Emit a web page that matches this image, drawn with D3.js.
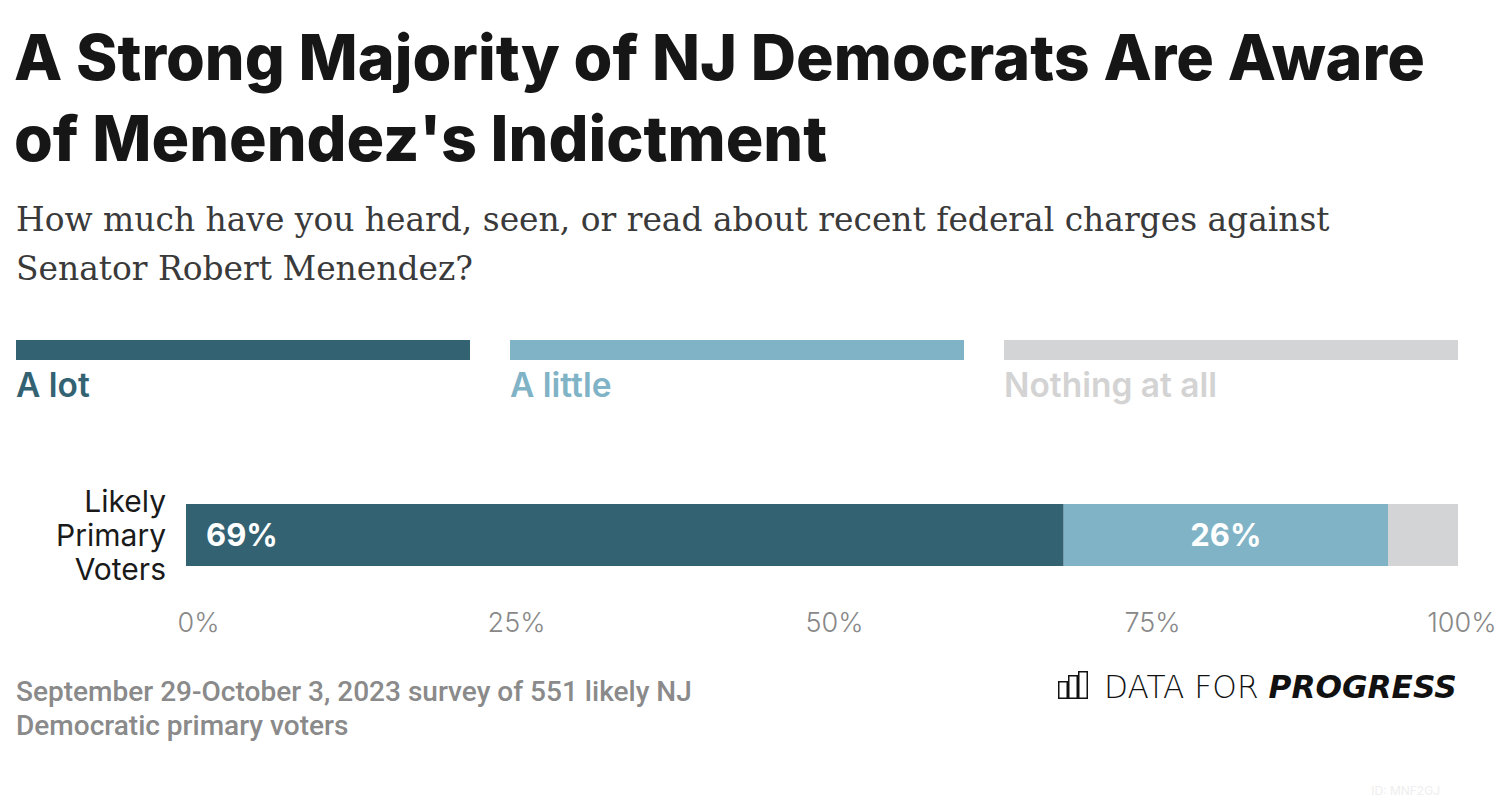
<!DOCTYPE html>
<html>
<head>
<meta charset="utf-8">
<script src="https://cdn.jsdelivr.net/npm/d3@7"></script>
<style>
  body { margin: 0; background: #fff; }
  svg { display: block; }
</style>
</head>
<body>
<div id="chart"></div>
<script>
// data
const categories = ["Likely Primary Voters"];
const categoryLines = [["Likely", "Primary", "Voters"]];
const seriesNames = ["A lot", "A little", "Nothing at all"];
const seriesColors = ["#336273", "#80b3c6", "#d3d4d5"];
const aLot = [69.0];
const aLittle = [25.5];
const nothing = [5.5];
const valueLabels = [["69%", "26%", ""]];
const tickValues = [0, 25, 50, 75, 100];

const W = 1498, H = 800;
const svg = d3.select("#chart").append("svg")
  .attr("width", W).attr("height", H);

const sans = "Inter, 'Open Sans', sans-serif";

// scale font-size so a text element spans the given width
function fit(sel, target) {
  const w = sel.node().getBBox().width;
  const fs = parseFloat(sel.style("font-size"));
  sel.style("font-size", (fs * target / w).toFixed(2) + "px");
}

// title
const t1 = svg.append("text").attr("x", 14).attr("y", 80)
  .style("font-family", sans).style("font-weight", 800)
  .style("font-size", "60px").attr("fill", "#161616")
  .text("A Strong Majority of NJ Democrats Are Aware");
fit(t1, 1411);
const fsTitle = t1.style("font-size");
svg.append("text").attr("x", 14).attr("y", 161)
  .style("font-family", sans).style("font-weight", 800)
  .style("font-size", fsTitle).attr("fill", "#161616")
  .text("of Menendez's Indictment");

const s1 = svg.append("text").attr("x", 16).attr("y", 231)
  .style("font-family", "'DejaVu Serif', serif").style("font-size", "30px").attr("fill", "#3a3a3a")
  .text("How much have you heard, seen, or read about recent federal charges against");
fit(s1, 1314);
svg.append("text").attr("x", 16).attr("y", 280)
  .style("font-family", "'DejaVu Serif', serif").style("font-size", s1.style("font-size")).attr("fill", "#3a3a3a")
  .text("Senator Robert Menendez?");

// legend
const swW = 454, gap = 40;
const legendLabels = seriesNames.map((s, i) => {
  const x0 = 16 + i * (swW + gap);
  svg.append("rect").attr("x", x0).attr("y", 340).attr("width", swW).attr("height", 20)
    .attr("fill", seriesColors[i]);
  return svg.append("text").attr("x", x0).attr("y", 397)
    .style("font-family", sans).style("font-weight", 600).style("font-size", "28px")
    .attr("fill", i === 2 ? "#d3d3d3" : seriesColors[i]).text(s);
});
fit(legendLabels[2], 213);
legendLabels.forEach(l => l.style("font-size", legendLabels[2].style("font-size")));

// chart
const x = d3.scaleLinear().domain([0, 100]).range([186, 1458]);
const y = d3.scaleBand().domain(categories).range([504, 566]);

const stackData = categories.map((c, i) => ({
  cat: c, "A lot": aLot[i], "A little": aLittle[i], "Nothing at all": nothing[i]
}));
const stacked = d3.stack().keys(seriesNames)(stackData);

stacked.forEach((layer, si) => {
  layer.forEach((d, ci) => {
    svg.append("rect")
      .attr("x", x(d[0])).attr("y", y(categories[ci]))
      .attr("width", x(d[1]) - x(d[0])).attr("height", y.bandwidth())
      .attr("fill", seriesColors[si]);
    const lab = valueLabels[ci][si];
    if (lab) {
      const t = svg.append("text")
        .attr("y", y(categories[ci]) + y.bandwidth() / 2 + 11)
        .style("font-family", sans).style("font-weight", 700).style("font-size", "31px")
        .attr("fill", "#fff").text(lab);
      if (si === 0) t.attr("x", x(d[0]) + 20);
      else t.attr("x", (x(d[0]) + x(d[1])) / 2).attr("text-anchor", "middle");
    }
  });
});

// category labels
categories.forEach((c, ci) => {
  const t = svg.append("text").attr("text-anchor", "end")
    .style("font-family", sans).style("font-size", "30px").attr("fill", "#1a1a1a");
  categoryLines[ci].forEach((w, i) => {
    t.append("tspan").attr("x", 166).attr("y", y(c) + y.bandwidth() / 2 - 23 + i * 34).text(w);
  });
});

// x axis
const axis = svg.append("g").attr("transform", "translate(0,606)")
  .call(d3.axisBottom(x).tickValues(tickValues).tickFormat(d => d + "%").tickSize(0));
axis.select(".domain").remove();
axis.selectAll("text")
  .attr("dx", d => d === 100 ? 0 : 12).attr("dy", 23)
  .attr("text-anchor", d => d === 100 ? "end" : "middle")
  .attr("x", d => d === 100 ? 1496 - x(100) : 0)
  .style("font-family", sans).style("font-weight", 300).style("font-size", "27px").attr("fill", "#888");

// footer
const f1 = svg.append("text").attr("x", 16).attr("y", 701)
  .style("font-family", "Roboto, sans-serif").style("font-weight", 500)
  .style("font-size", "24px").attr("fill", "#8a8a8a")
  .text("September 29-October 3, 2023 survey of 551 likely NJ");
fit(f1, 676);
svg.append("text").attr("x", 16).attr("y", 735)
  .style("font-family", "Roboto, sans-serif").style("font-weight", 500)
  .style("font-size", f1.style("font-size")).attr("fill", "#8a8a8a")
  .text("Democratic primary voters");

// logo
const logo = svg.append("g").attr("transform", "translate(1058,671)");
[[0, 10, 18], [10, 4, 24], [20, 0, 28]].forEach(([dx, dy, h]) => {
  logo.append("rect").attr("x", dx + 0.75).attr("y", dy + 0.75).attr("width", 8.5).attr("height", h - 1.5)
    .attr("fill", "none").attr("stroke", "#111").attr("stroke-width", 1.5);
});
const lt = logo.append("text").attr("x", 46).attr("y", 27)
  .style("font-family", "'DejaVu Sans', sans-serif").style("font-size", "33px").attr("fill", "#111");
lt.append("tspan").style("font-weight", 200).text("DATA FOR ");
lt.append("tspan").style("font-weight", 700).style("font-style", "italic").text("PROGRESS");
fit(lt, 353);

svg.append("text").attr("x", 1440).attr("y", 795).attr("text-anchor", "end")
  .style("font-family", sans).style("font-size", "12px").attr("fill", "#eeeeee").text("ID: MNF2GJ");
</script>
</body>
</html>
